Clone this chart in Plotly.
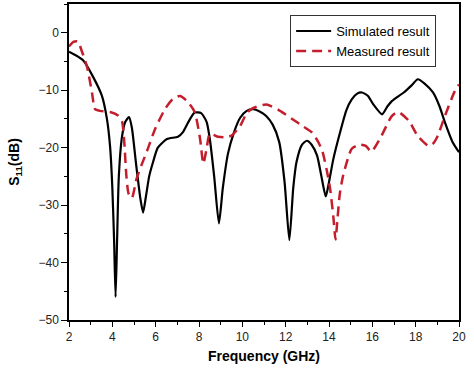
import plotly.graph_objects as go

# Simulated S11 (black solid)
sim_freq = [2.0, 2.3, 2.65, 3.1, 3.52, 3.75, 3.9, 4.0, 4.08, 4.15, 4.22, 4.3, 4.45, 4.6, 4.77,
            4.9, 5.1, 5.3, 5.42, 5.55, 5.7, 5.88, 6.1, 6.52, 7.03, 7.26, 7.5, 7.8, 8.1, 8.35,
            8.5, 8.7, 8.92, 9.1, 9.34, 9.6, 9.9, 10.2, 10.5, 10.8, 11.1, 11.4, 11.7, 11.95,
            12.17, 12.35, 12.5, 12.75, 12.98, 13.2, 13.45, 13.65, 13.85, 14.0, 14.2, 14.5,
            14.8, 15.05, 15.3, 15.52, 15.8, 16.03, 16.45, 16.7, 16.9, 17.45, 17.8, 18.1,
            18.4, 18.8, 19.1, 19.35, 19.7, 20.0]
sim_s11 = [-3.3, -3.9, -4.8, -7.6, -11.0, -15.0, -20.0, -27.0, -36.0, -46.0, -36.0, -25.0, -18.0,
           -15.5, -14.7, -16.5, -23.0, -29.0, -31.3, -28.5, -25.0, -22.5, -20.0, -18.5, -18.1,
           -17.3, -15.6, -13.9, -14.0, -15.5, -18.5, -25.0, -33.2, -27.0, -21.0, -17.5, -14.8,
           -13.6, -13.3, -13.7, -14.5, -16.0, -19.0, -26.0, -36.1, -27.0, -22.5, -19.5, -18.8,
           -19.5, -21.4, -25.0, -28.5, -26.0, -22.0, -17.5, -13.5, -11.6, -10.6, -10.4, -11.0,
           -12.4, -14.2, -12.8, -11.9, -10.4, -9.2, -8.1, -8.8, -10.4, -12.8, -15.6, -19.0, -20.8]

# Measured S11 (red dashed)
meas_freq = [2.0, 2.2, 2.4, 2.6, 2.83, 3.06, 3.2, 3.43, 3.9, 4.26, 4.45, 4.55, 4.65, 4.75, 4.9,
             5.12, 5.35, 5.6, 5.97, 6.43, 6.8, 7.12, 7.45, 7.8, 8.05, 8.2, 8.35, 8.5, 8.88, 9.2,
             9.5, 9.9, 10.2, 10.45, 11.1, 11.7, 12.3, 12.8, 13.2, 13.5, 13.7, 13.9, 14.05, 14.2,
             14.3, 14.4, 14.5, 14.65, 15.05, 15.4, 15.7, 15.95, 16.4, 16.9, 17.2, 17.7, 18.1,
             18.6, 18.8, 19.0, 19.35, 19.8, 20.0]
meas_s11 = [-2.4, -1.6, -1.5, -3.3, -5.9, -10.4, -13.3, -13.6, -13.8, -14.4, -15.5, -19.0, -25.0,
            -28.0, -28.8, -25.4, -23.0, -20.6, -16.8, -13.3, -11.5, -11.0, -11.9, -13.8, -18.5,
            -22.8, -20.2, -17.6, -18.1, -18.2, -17.9, -16.2, -14.0, -13.2, -12.5, -13.5, -15.0,
            -16.3, -17.3, -19.0, -20.7, -24.0, -27.1, -32.0, -36.0, -32.0, -28.0, -24.9, -20.2,
            -19.5, -19.7, -20.7, -18.1, -14.5, -13.8, -15.4, -18.0, -19.7, -19.3, -18.1, -14.5,
            -10.2, -9.0]

x_ticks = [2, 4, 6, 8, 10, 12, 14, 16, 18, 20]
y_ticks = [-50, -40, -30, -20, -10, 0]

fig = go.Figure()
fig.add_trace(go.Scatter(
    x=sim_freq, y=sim_s11, mode="lines", name="Simulated result",
    line=dict(color="black", width=2.2, shape="spline", smoothing=0.6)))
fig.add_trace(go.Scatter(
    x=meas_freq, y=meas_s11, mode="lines", name="Measured result",
    line=dict(color="#c41e2c", width=2.5, dash="10px,6px", shape="spline", smoothing=0.6)))

axis_font = dict(family="Liberation Sans, Arial, sans-serif", size=12, color="#222222")

fig.update_layout(
    width=474, height=375,
    margin=dict(l=69, r=15, t=4, b=55, autoexpand=False),
    paper_bgcolor="white", plot_bgcolor="white",
    font=dict(family="Liberation Sans, Arial, sans-serif", color="black"),
    showlegend=True,
    legend=dict(x=0.567, y=0.965, xanchor="left", yanchor="top",
                bgcolor="white", bordercolor="#333333", borderwidth=1,
                font=dict(size=13, color="black"), tracegroupgap=0,
                itemwidth=35),
    xaxis=dict(range=[2, 20], tickvals=x_ticks, ticks="outside", ticklen=5,
               tickwidth=1.3, tickcolor="black",
               minor=dict(ticks="outside", dtick=1, ticklen=3, tickcolor="black", tickwidth=1.3),
               showline=True, linecolor="black", linewidth=1.5, mirror=True,
               showgrid=False, zeroline=False, tickfont=axis_font,
               title=dict(text="<b>Frequency (GHz)</b>", font=dict(size=14, color="black"),
                          standoff=8)),
    yaxis=dict(range=[-50, 5], tickvals=y_ticks, ticks="outside", ticklen=6,
               tickwidth=1.3, tickcolor="black",
               minor=dict(ticks="outside", dtick=5, ticklen=3, tickcolor="black", tickwidth=1.3),
               showline=True, linecolor="black", linewidth=1.5, mirror=True,
               showgrid=False, zeroline=False, tickfont=axis_font,
               title=dict(text="<b>S<sub>11</sub>(dB)</b>", font=dict(size=14, color="black"),
                          standoff=16)),
)

fig.write_html("out.html", config={"displayModeBar": False},
               post_script="document.body.style.margin='0';document.body.style.overflow='hidden';")
